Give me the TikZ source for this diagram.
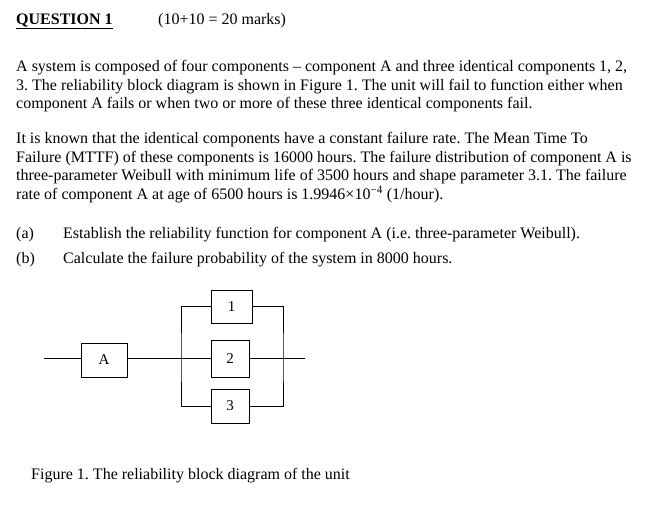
\documentclass[tikz,border=0pt]{standalone}
\usepackage{fontspec}
\setmainfont{Liberation Serif}
\frenchspacing
\begin{document}
\begin{tikzpicture}[x=1pt,y=-1pt,
  txt/.style={anchor=west,inner sep=0pt,font=\fontsize{16}{18.6}\selectfont\frenchspacing,align=left},
  blk/.style={draw,line width=0.8pt,minimum width=40pt,minimum height=34pt,inner sep=0pt,font=\fontsize{15}{15}\selectfont},
  wire/.style={line width=0.8pt}]
\useasboundingbox (0,0) rectangle (667,528);
\node[txt] (h1) at (16,21) {\textbf{\underline{QUESTION 1}}};
\node[txt] (h2) at (158,21) {(10+10 = 20 marks)};
\node[txt,anchor=north west] (p1) at (16,60) {A system is composed of four components -- component A and three identical components 1, 2,\\3. The reliability block diagram is shown in Figure 1. The unit will fail to function either when\\component A fails or when two or more of these three identical components fail.};
\node[txt,anchor=north west] (p2) at (16,132) {It is known that the identical components have a constant failure rate. The Mean Time To\\Failure (MTTF) of these components is 16000 hours. The failure distribution of component A is\\three-parameter Weibull with minimum life of 3500 hours and shape parameter 3.1. The failure\\rate of component A at age of 6500 hours is 1.9946×10\textsuperscript{−4} (1/hour).};
\node[txt] (a) at (16,235) {(a)};
\node[txt] (at) at (63,235) {Establish the reliability function for component A (i.e. three-parameter Weibull).};
\node[txt] (b) at (16,260) {(b)};
\node[txt] (bt) at (63,260) {Calculate the failure probability of the system in 8000 hours.};
\node[txt] (cap) at (31,476) {Figure 1. The reliability block diagram of the unit};
% diagram
\node[blk,minimum width=46pt] (A) at (104,360) {A};
\node[blk,minimum width=41pt,minimum height=33pt] (c1) at (231.5,306.5) {1};
\node[blk,minimum width=38pt,minimum height=37pt] (c2) at (230,358.5) {2};
\node[blk,minimum width=38pt,minimum height=34pt] (c3) at (230,406) {3};
\coordinate (in) at (44,358);
\coordinate (out) at (305,358);
\coordinate (L) at (181,358);
\coordinate (R) at (283,358);
\draw[wire] (in) -- (A.west |- in);
\draw[wire] (A.east |- in) -- (c2.west |- in);
\draw[wire] (c2.east |- in) -- (out);
\draw[wire] (c1.west) -| (L) |- (c3.west);
\draw[wire] (c1.east) -| (R) |- (c3.east);
\end{tikzpicture}
\end{document}
